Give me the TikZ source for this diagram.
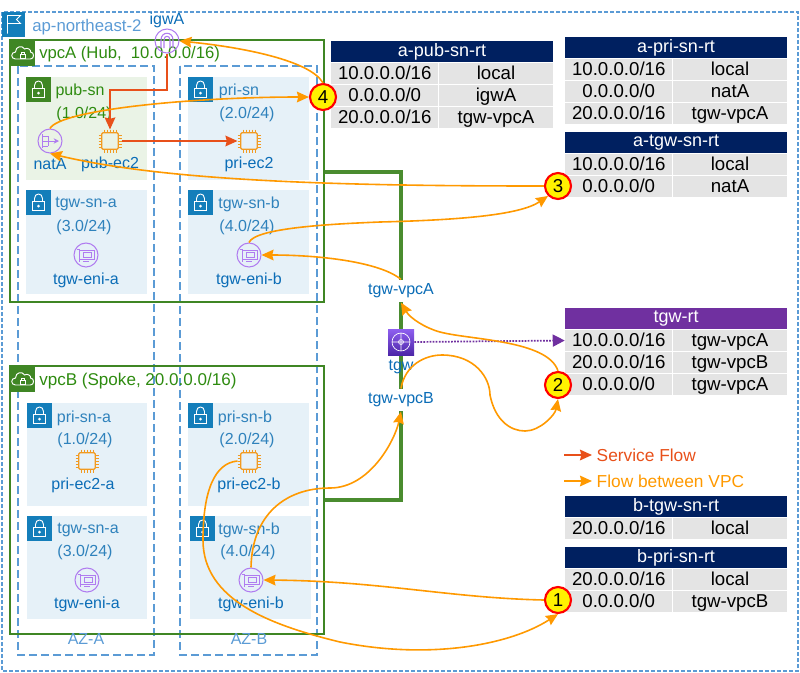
\documentclass[tikz,border=0pt]{standalone}
\usepackage{fontspec}
\setmainfont{Liberation Sans}
\usetikzlibrary{arrows.meta}
\usetikzlibrary{positioning}

\definecolor{azblue}{HTML}{5B9BD5}
\definecolor{iconblue}{HTML}{147EBA}
\definecolor{snblue}{HTML}{E6F1F8}
\definecolor{sngreen}{HTML}{EAF3E6}
\definecolor{vpcgreen}{HTML}{3F8624}
\definecolor{vpctext}{HTML}{2E8B10}
\definecolor{linkgreen}{HTML}{4A8C2F}
\definecolor{snametext}{HTML}{2F82BC}
\definecolor{restext}{HTML}{0B6DB7}
\definecolor{floworange}{HTML}{FF9900}
\definecolor{svcred}{HTML}{E8501A}
\definecolor{iconpurple}{HTML}{B07CF0}
\definecolor{chiporange}{HTML}{F29A20}
\definecolor{rtnavy}{HTML}{002060}
\definecolor{rtpurple}{HTML}{7030A0}
\definecolor{rtgray}{HTML}{E4E4E4}
\definecolor{tgwdark}{HTML}{4D27A8}
\definecolor{tgwlight}{HTML}{8F5FF0}

\tikzset{
  azbox/.style={draw=azblue, line width=0.9pt, dash pattern=on 6pt off 3pt},
  vpcbox/.style={draw=vpcgreen, line width=0.9pt},
  snname/.style={text=snametext, font=\fontsize{12}{14}\selectfont, inner sep=0pt},
  res/.style={text=restext, font=\fontsize{12}{14}\selectfont, inner sep=0pt},
  ring/.style={circle, draw=iconpurple, line width=0.8pt, minimum size=18pt, inner sep=0pt},
  chip/.style={draw=chiporange, line width=0.9pt, rounded corners=1pt, minimum size=12.5pt, inner sep=0pt, outer sep=2.4pt},
  badge/.style={circle, fill=yellow, draw=red, line width=1.6pt, minimum size=19.5pt, inner sep=0pt, font=\fontsize{14}{15}\selectfont},
  flow/.style={draw=floworange, line width=1.2pt, -{Stealth[length=9pt,width=8pt,inset=1pt]}},
  svcflow/.style={draw=svcred, line width=1.2pt, -{Stealth[length=9pt,width=8pt,inset=1pt]}},
  rthead/.style={text=white, minimum width=166.5pt, minimum height=15.75pt, inner sep=0pt, font=\fontsize{13.5}{14}\selectfont},
  rtcell/.style={fill=rtgray, minimum height=15.75pt, inner sep=0pt, text height=10pt, text depth=0.5pt, font=\fontsize{14}{15}\selectfont},
  chippins/.pic={
    \foreach \t in {-6,-3,0,3,6} {
      \draw[chiporange, line width=0.6pt] (\t,-11.5) -- (\t,-8.5) (\t,8.5) -- (\t,11.5)
        (-11.5,\t) -- (-8.5,\t) (8.5,\t) -- (11.5,\t);
    }
  },
  eniglyph/.pic={
    \draw[iconpurple, line width=0.7pt] (-9,-6) -- (-7,-6) -- (-7,7) (-7,-5) rectangle (8,4)
      (-3,-3) rectangle (5,2) (-3,6) -- (3,6);
  },
  natglyph/.pic={
    \draw[iconpurple, line width=0.7pt] (-8,-7) -- (-8,7) (-8,-5) -- (-2,-5) (-8,0) -- (-2,0) (-8,5) -- (-2,5)
      (-2,-5) -- (-2,5);
    \draw[iconpurple, line width=0.7pt, -{Stealth[length=4pt,width=4pt]}] (-2,0) -- (9,0);
  },
  igwglyph/.pic={
    \draw[iconpurple, line width=0.8pt] (-6,7) -- (-6,-1) .. controls (-6,-10) and (6,-10) .. (6,-1) -- (6,7)
      (-3,7) -- (-3,-1) .. controls (-3,-6) and (3,-6) .. (3,-1) -- (3,7);
  },
  lockpic/.pic={
    \fill[#1] (-12.5,-12.5) rectangle (12.5,12.5);
    \draw[white, line width=0.7pt] (-6,-1) rectangle (6,8)
      (-4,-1) -- (-4,-4) .. controls (-4,-10) and (4,-10) .. (4,-4) -- (4,-1);
    \fill[white] (0,3.5) circle[radius=1.5];
  },
  cloudpic/.pic={
    \fill[vpcgreen] (-12.5,-13) rectangle (12.5,13);
    \draw[white, line width=0.7pt] (-7,6) .. controls (-12,6) and (-12,-1) .. (-7,-1)
      .. controls (-7,-7) and (0,-8) .. (2,-4) .. controls (5,-6) and (9,-3) .. (8,-1)
      .. controls (12,-1) and (12,6) .. (8,6) -- cycle;
    \draw[white, line width=0.5pt] (-2,1) rectangle (3,5) (-1,1) -- (-1,-1) -- (2,-1) -- (2,1);
  },
  flagpic/.pic={
    \fill[iconblue] (-11.5,-12.5) rectangle (11.5,12.5);
    \draw[white, line width=0.7pt] (-6,9) -- (-6,-9) -- (7,-9) -- (3,-5) -- (7,-1) -- (-6,-1);
  }
}

\newcommand{\rtable}[6]{
  \node[rthead, fill=#4] (#1-h) at (#2+111,#3+10.5) {#5};
  \foreach \dest/\via [count=\i] in {#6} {
    \node[rtcell, minimum width=80.6pt] (#1-\i-d) at (#2+53.75,#3+10.5+22*\i) {\dest};
    \node[rtcell, minimum width=85.5pt] (#1-\i-v) at (#2+165,#3+10.5+22*\i) {\via};
  }
}

\begin{document}
\begin{tikzpicture}[x=0.75pt, y=-0.75pt]
\useasboundingbox (0,0) rectangle (800,672);

%region
\draw[draw=azblue, line width=1pt, dash pattern=on 3pt off 1.5pt] (2,12) rectangle (798,671);
\pic at (13.5,24.5) {flagpic};
\node[text=azblue, font=\fontsize{12.6}{14}\selectfont, inner sep=0pt, anchor=west] (regionname) at (32,27) {ap-northeast-2};

%zones
\draw[azbox] (18,66) rectangle (154,655);
\draw[azbox] (180,66) rectangle (317,655);

%link lines
\draw[linkgreen, line width=2.4pt] (324,172) -- (401,172) -- (401,500) -- (324,500);

%vpcs
\draw[vpcbox] (10,40) rectangle (324,302);
\draw[vpcbox] (10,366) rectangle (324,634);
\pic at (22.5,53) {cloudpic};
\pic at (22.5,379) {cloudpic};
\node[text=vpctext, font=\fontsize{12.5}{14}\selectfont, inner sep=0pt, anchor=west] (vpcAname) at (39,54) {vpcA (Hub,\ \ 10.0.0.0/16)};
\node[text=vpctext, font=\fontsize{12.8}{14}\selectfont, inner sep=0pt, anchor=west] (vpcBname) at (39,381) {vpcB (Spoke, 20.0.0.0/16)};
\node[text=azblue, font=\fontsize{12}{14}\selectfont, inner sep=0pt] (azA) at (86,639) {AZ-A};
\node[text=azblue, font=\fontsize{12}{14}\selectfont, inner sep=0pt] (azB) at (249,639) {AZ-B};

%subnets of vpcA
\fill[sngreen] (26,77) rectangle (147,180);
\fill[snblue] (188,77) rectangle (309,180);
\fill[snblue] (26,190) rectangle (147,294);
\fill[snblue] (188,190) rectangle (309,294);
\pic at (38.5,89.5) {lockpic=vpcgreen};
\pic at (200.5,89.5) {lockpic=iconblue};
\pic at (38.5,202.5) {lockpic=iconblue};
\pic at (200.5,202.5) {lockpic=iconblue};

%subnets of vpcB
\fill[snblue] (27,403) rectangle (147,506);
\fill[snblue] (188,403) rectangle (309,506);
\fill[snblue] (27,516) rectangle (147,619);
\fill[snblue] (190,516) rectangle (311,619);
\pic at (39.5,415.5) {lockpic=iconblue};
\pic at (200.5,415.5) {lockpic=iconblue};
\pic at (39.5,528.5) {lockpic=iconblue};
\pic at (202.5,528.5) {lockpic=iconblue};

%subnet labels
\node[snname, text=vpctext] (pubsn) at (80,91) {pub-sn};
\node[snname, text=vpctext] (pubcidr) at (84,114) {(1.0/24)};
\node[snname] (prisn) at (239,91) {pri-sn};
\node[snname] (pricidr) at (247,114) {(2.0/24)};
\node[snname] (tgwsna) at (86,204) {tgw-sn-a};
\node[snname] (tgwacidr) at (84,227) {(3.0/24)};
\node[snname] (tgwsnb) at (249,204) {tgw-sn-b};
\node[snname] (tgwbcidr) at (247,227) {(4.0/24)};
\node[snname] (prisna) at (84,418) {pri-sn-a};
\node[snname] (priacidr) at (85,440) {(1.0/24)};
\node[snname] (prisnb) at (245,418) {pri-sn-b};
\node[snname] (pribcidr) at (247,440) {(2.0/24)};
\node[snname] (btgwsna) at (88,530) {tgw-sn-a};
\node[snname] (btgwacidr) at (85,552) {(3.0/24)};
\node[snname] (btgwsnb) at (249,530) {tgw-sn-b};
\node[snname] (btgwbcidr) at (248,552) {(4.0/24)};

%icons
\node[ring] (igwA) at (167,41) {};
\pic at (igwA) {igwglyph};
\node[ring] (natA) at (50,141) {};
\pic at (natA) {natglyph};
\node[chip] (pubec2) at (110,141) {};
\pic at (pubec2) {chippins};
\node[chip] (priec2) at (249,141) {};
\pic at (priec2) {chippins};
\node[ring] (enia) at (86,255) {};
\pic at (enia) {eniglyph};
\node[ring] (enib) at (249,255) {};
\pic at (enib) {eniglyph};
\node[chip] (priec2a) at (87,461) {};
\pic at (priec2a) {chippins};
\node[chip] (priec2b) at (249,461) {};
\pic at (priec2b) {chippins};
\node[ring] (benia) at (87,580) {};
\pic at (benia) {eniglyph};
\node[ring] (benib) at (251,580) {};
\pic at (benib) {eniglyph};

%resource labels
\node[res] (igwAname) at (167,20) {igwA};
\node[res] (natAname) at (50,164) {natA};
\node[res] (pubec2name) at (110,164) {pub-ec2};
\node[res] (priec2name) at (249,164) {pri-ec2};
\node[res] (enianame) at (86,280) {tgw-eni-a};
\node[res] (enibname) at (249,280) {tgw-eni-b};
\node[res] (priec2aname) at (83,485) {pri-ec2-a};
\node[res] (priec2bname) at (249,485) {pri-ec2-b};
\node[res] (benianame) at (87,604) {tgw-eni-a};
\node[res] (benibname) at (251,604) {tgw-eni-b};

%transit gateway
\node[res, fill=white, minimum width=52pt, minimum height=17pt] (tgwvpcA) at (401,291) {tgw-vpcA};
\node[res, fill=white, minimum width=52pt, minimum height=17pt] (tgwvpcB) at (401,400) {tgw-vpcB};
\node[minimum size=19.5pt, inner sep=0pt, bottom color=tgwdark, top color=tgwlight] (tgw) at (401,342) {};
\draw[white, line width=0.5pt] (tgw) circle[radius=9] (tgw) circle[radius=2.5]
  ([xshift=-6.7pt]tgw.center) -- ([xshift=6.7pt]tgw.center) ([yshift=-6.7pt]tgw.center) -- ([yshift=6.7pt]tgw.center);
\node[res] (tgwname) at (401,367) {tgw};

%tables
\rtable{apub}{331}{41}{rtnavy}{a-pub-sn-rt}{{10.0.0.0/16}/local,{0.0.0.0/0}/igwA,{20.0.0.0/16}/tgw-vpcA}
\rtable{apri}{565}{37}{rtnavy}{a-pri-sn-rt}{{10.0.0.0/16}/local,{0.0.0.0/0}/natA,{20.0.0.0/16}/tgw-vpcA}
\rtable{atgw}{565}{132}{rtnavy}{a-tgw-sn-rt}{{10.0.0.0/16}/local,{0.0.0.0/0}/natA}
\rtable{tgwrt}{565}{308}{rtpurple}{tgw-rt}{{10.0.0.0/16}/tgw-vpcA,{20.0.0.0/16}/tgw-vpcB,{0.0.0.0/0}/tgw-vpcA}
\rtable{btgw}{565}{496}{rtnavy}{b-tgw-sn-rt}{{20.0.0.0/16}/local}
\rtable{bpri}{565}{547}{rtnavy}{b-pri-sn-rt}{{20.0.0.0/16}/local,{0.0.0.0/0}/tgw-vpcB}

%badges
\node[badge] (one) at (558,600) {1};
\node[badge] (two) at (558,385) {2};
\node[badge] (three) at (558,186) {3};
\node[badge] (four) at (323,97) {4};

%legend
\coordinate (svcstart) at (564,455);
\coordinate (flowstart) at (564,481);
\node[text=svcred, font=\fontsize{13}{14}\selectfont, anchor=west] (svclabel) at (592,455) {Service Flow};
\node[text=floworange, font=\fontsize{13}{14}\selectfont, anchor=west] (flowlabel) at (592,481) {Flow between VPC};
\draw[svcflow] (svcstart) -- (svclabel);
\draw[flow] (flowstart) -- (flowlabel);

%service flow
\draw[svcflow] (igwA.south) -- (167,90) -- (110,90) -- (pubec2.north);
\draw[svcflow] (pubec2.east) -- (priec2.west);

%route table link
\draw[rtpurple, line width=1.3pt, densely dotted, -{Stealth[length=9pt,width=9pt,inset=0pt]}] (tgw.east) -- (tgwrt-1-d.west);

%flows between vpc
\draw[flow] (four.north) .. controls (310,60) and (240,47) .. (igwA.east);
\draw[flow] (natA.north) .. controls (60,110) and (190,97) .. (four.west);
\draw[flow] (three.west) .. controls (350,186) and (170,182) .. (natA.south);
\draw[flow] (enib.north) .. controls (255,228) and (330,224) .. (380,222) .. controls (460,220) and (520,215) .. (three.south west);
\draw[flow] (tgwvpcA.north) .. controls (380,262) and (320,255) .. (enib.east);
\draw[flow] (two.north) .. controls (548,340) and (470,340) .. (440,332) .. controls (425,328) and (410,318) .. (tgwvpcA.south);
\draw[flow] (tgwvpcB.north) .. controls (405,365) and (425,355) .. (442,355) .. controls (475,355) and (490,378) .. (490,395)
  .. controls (495,420) and (510,431) .. (525,431) .. controls (540,431) and (555,415) .. (two.south);
\draw[flow] (benib.north) .. controls (252,515) and (285,488) .. (330,488) .. controls (370,488) and (395,440) .. (tgwvpcB.south);
\draw[flow] (one.west) .. controls (450,598) and (380,581) .. (benib.east);
\draw[flow] (priec2b.west) .. controls (215,463) and (203,490) .. (203,540) .. controls (203,600) and (270,625) .. (340,642)
  .. controls (430,660) and (510,645) .. (one.south);

\end{tikzpicture}
\end{document}
